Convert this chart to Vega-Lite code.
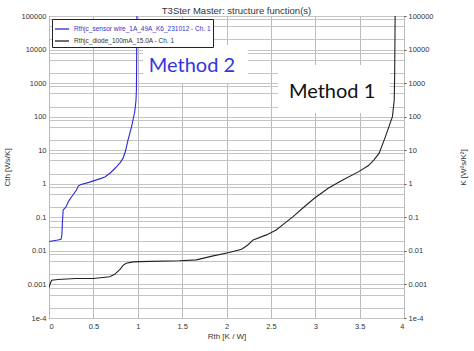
{
  "$schema": "https://vega.github.io/schema/vega-lite/v6.json",
  "width": 355,
  "height": 302,
  "autosize": {"type": "none"},
  "padding": {"left": 49, "top": 16, "right": 70, "bottom": 33},
  "background": "white",
  "title": {"text": "T3Ster Master: structure function(s)", "fontSize": 9.5, "fontWeight": "normal", "color": "#333", "font": "Liberation Sans", "frame": "group", "anchor": "middle", "dx": 10, "offset": -3},
  "config": {
    "view": {"stroke": "#222", "strokeWidth": 1},
    "axis": {"labelFont": "Liberation Sans", "titleFont": "Liberation Sans", "labelFontSize": 7.5, "titleFontSize": 8, "titleFontWeight": "normal", "labelColor": "#333", "titleColor": "#333", "gridColor": "#c4c4c4", "gridWidth": 1, "domain": false, "tickColor": "#555"}
  },
  "datasets": {
    "curves": [
      {"x": 0, "y": 0.019, "s": "Rthjc_sensor wire_1A_49A_K6_231012 - Ch. 1"},
      {"x": 0.05, "y": 0.02, "s": "Rthjc_sensor wire_1A_49A_K6_231012 - Ch. 1"},
      {"x": 0.1, "y": 0.021, "s": "Rthjc_sensor wire_1A_49A_K6_231012 - Ch. 1"},
      {"x": 0.135, "y": 0.022, "s": "Rthjc_sensor wire_1A_49A_K6_231012 - Ch. 1"},
      {"x": 0.145, "y": 0.03, "s": "Rthjc_sensor wire_1A_49A_K6_231012 - Ch. 1"},
      {"x": 0.152, "y": 0.08, "s": "Rthjc_sensor wire_1A_49A_K6_231012 - Ch. 1"},
      {"x": 0.16, "y": 0.166, "s": "Rthjc_sensor wire_1A_49A_K6_231012 - Ch. 1"},
      {"x": 0.19, "y": 0.2, "s": "Rthjc_sensor wire_1A_49A_K6_231012 - Ch. 1"},
      {"x": 0.22, "y": 0.3, "s": "Rthjc_sensor wire_1A_49A_K6_231012 - Ch. 1"},
      {"x": 0.255, "y": 0.41, "s": "Rthjc_sensor wire_1A_49A_K6_231012 - Ch. 1"},
      {"x": 0.29, "y": 0.55, "s": "Rthjc_sensor wire_1A_49A_K6_231012 - Ch. 1"},
      {"x": 0.31, "y": 0.65, "s": "Rthjc_sensor wire_1A_49A_K6_231012 - Ch. 1"},
      {"x": 0.33, "y": 0.85, "s": "Rthjc_sensor wire_1A_49A_K6_231012 - Ch. 1"},
      {"x": 0.36, "y": 0.95, "s": "Rthjc_sensor wire_1A_49A_K6_231012 - Ch. 1"},
      {"x": 0.45, "y": 1.1, "s": "Rthjc_sensor wire_1A_49A_K6_231012 - Ch. 1"},
      {"x": 0.57, "y": 1.4, "s": "Rthjc_sensor wire_1A_49A_K6_231012 - Ch. 1"},
      {"x": 0.63, "y": 1.6, "s": "Rthjc_sensor wire_1A_49A_K6_231012 - Ch. 1"},
      {"x": 0.69, "y": 2.1, "s": "Rthjc_sensor wire_1A_49A_K6_231012 - Ch. 1"},
      {"x": 0.75, "y": 3.0, "s": "Rthjc_sensor wire_1A_49A_K6_231012 - Ch. 1"},
      {"x": 0.8, "y": 4.2, "s": "Rthjc_sensor wire_1A_49A_K6_231012 - Ch. 1"},
      {"x": 0.835, "y": 5.8, "s": "Rthjc_sensor wire_1A_49A_K6_231012 - Ch. 1"},
      {"x": 0.86, "y": 9, "s": "Rthjc_sensor wire_1A_49A_K6_231012 - Ch. 1"},
      {"x": 0.89, "y": 20, "s": "Rthjc_sensor wire_1A_49A_K6_231012 - Ch. 1"},
      {"x": 0.93, "y": 50, "s": "Rthjc_sensor wire_1A_49A_K6_231012 - Ch. 1"},
      {"x": 0.966, "y": 140, "s": "Rthjc_sensor wire_1A_49A_K6_231012 - Ch. 1"},
      {"x": 0.98, "y": 300, "s": "Rthjc_sensor wire_1A_49A_K6_231012 - Ch. 1"},
      {"x": 0.985, "y": 630, "s": "Rthjc_sensor wire_1A_49A_K6_231012 - Ch. 1"},
      {"x": 0.987, "y": 3000, "s": "Rthjc_sensor wire_1A_49A_K6_231012 - Ch. 1"},
      {"x": 0.99, "y": 100000, "s": "Rthjc_sensor wire_1A_49A_K6_231012 - Ch. 1"},
      {"x": 0, "y": 0.0008, "s": "Rthjc_diode_100mA_15.0A - Ch. 1"},
      {"x": 0.01, "y": 0.001, "s": "Rthjc_diode_100mA_15.0A - Ch. 1"},
      {"x": 0.03, "y": 0.00134, "s": "Rthjc_diode_100mA_15.0A - Ch. 1"},
      {"x": 0.1, "y": 0.0014, "s": "Rthjc_diode_100mA_15.0A - Ch. 1"},
      {"x": 0.3, "y": 0.0015, "s": "Rthjc_diode_100mA_15.0A - Ch. 1"},
      {"x": 0.5, "y": 0.0015, "s": "Rthjc_diode_100mA_15.0A - Ch. 1"},
      {"x": 0.685, "y": 0.0017, "s": "Rthjc_diode_100mA_15.0A - Ch. 1"},
      {"x": 0.74, "y": 0.002, "s": "Rthjc_diode_100mA_15.0A - Ch. 1"},
      {"x": 0.8, "y": 0.0028, "s": "Rthjc_diode_100mA_15.0A - Ch. 1"},
      {"x": 0.835, "y": 0.0037, "s": "Rthjc_diode_100mA_15.0A - Ch. 1"},
      {"x": 0.87, "y": 0.0043, "s": "Rthjc_diode_100mA_15.0A - Ch. 1"},
      {"x": 0.95, "y": 0.0047, "s": "Rthjc_diode_100mA_15.0A - Ch. 1"},
      {"x": 1.02, "y": 0.0048, "s": "Rthjc_diode_100mA_15.0A - Ch. 1"},
      {"x": 1.47, "y": 0.0051, "s": "Rthjc_diode_100mA_15.0A - Ch. 1"},
      {"x": 1.66, "y": 0.0054, "s": "Rthjc_diode_100mA_15.0A - Ch. 1"},
      {"x": 1.85, "y": 0.0071, "s": "Rthjc_diode_100mA_15.0A - Ch. 1"},
      {"x": 2.03, "y": 0.0089, "s": "Rthjc_diode_100mA_15.0A - Ch. 1"},
      {"x": 2.17, "y": 0.0112, "s": "Rthjc_diode_100mA_15.0A - Ch. 1"},
      {"x": 2.24, "y": 0.015, "s": "Rthjc_diode_100mA_15.0A - Ch. 1"},
      {"x": 2.3, "y": 0.0213, "s": "Rthjc_diode_100mA_15.0A - Ch. 1"},
      {"x": 2.45, "y": 0.03, "s": "Rthjc_diode_100mA_15.0A - Ch. 1"},
      {"x": 2.56, "y": 0.042, "s": "Rthjc_diode_100mA_15.0A - Ch. 1"},
      {"x": 2.65, "y": 0.065, "s": "Rthjc_diode_100mA_15.0A - Ch. 1"},
      {"x": 2.75, "y": 0.105, "s": "Rthjc_diode_100mA_15.0A - Ch. 1"},
      {"x": 2.87, "y": 0.2, "s": "Rthjc_diode_100mA_15.0A - Ch. 1"},
      {"x": 2.99, "y": 0.37, "s": "Rthjc_diode_100mA_15.0A - Ch. 1"},
      {"x": 3.15, "y": 0.75, "s": "Rthjc_diode_100mA_15.0A - Ch. 1"},
      {"x": 3.31, "y": 1.3, "s": "Rthjc_diode_100mA_15.0A - Ch. 1"},
      {"x": 3.49, "y": 2.3, "s": "Rthjc_diode_100mA_15.0A - Ch. 1"},
      {"x": 3.6, "y": 3.5, "s": "Rthjc_diode_100mA_15.0A - Ch. 1"},
      {"x": 3.66, "y": 5.1, "s": "Rthjc_diode_100mA_15.0A - Ch. 1"},
      {"x": 3.72, "y": 8.2, "s": "Rthjc_diode_100mA_15.0A - Ch. 1"},
      {"x": 3.79, "y": 25, "s": "Rthjc_diode_100mA_15.0A - Ch. 1"},
      {"x": 3.84, "y": 60, "s": "Rthjc_diode_100mA_15.0A - Ch. 1"},
      {"x": 3.87, "y": 100, "s": "Rthjc_diode_100mA_15.0A - Ch. 1"},
      {"x": 3.89, "y": 315, "s": "Rthjc_diode_100mA_15.0A - Ch. 1"},
      {"x": 3.895, "y": 2000, "s": "Rthjc_diode_100mA_15.0A - Ch. 1"},
      {"x": 3.9, "y": 100000, "s": "Rthjc_diode_100mA_15.0A - Ch. 1"}
    ],
    "boxes": [
      {"x": 1.06, "x2": 2.24, "y": 13700, "y2": 1000},
      {"x": 2.58, "x2": 3.84, "y": 3470, "y2": 129}
    ],
    "labels": [
      {"x": 1.61, "y": 2200, "t": "Method 2", "c": "m2"},
      {"x": 3.19, "y": 355, "t": "Method 1", "c": "m1"}
    ]
  },
  "encoding": {
    "x": {"field": "x", "type": "quantitative", "scale": {"domain": [0, 4], "nice": false},
      "axis": {"title": "Rth [K / W]", "values": [0, 0.5, 1, 1.5, 2, 2.5, 3, 3.5, 4], "labelExpr": "format(datum.value, '~g')", "grid": true, "ticks": false, "labelPadding": 4, "titlePadding": 3, "gridColor": "#bbbbbb"}}
  },
  "resolve": {"axis": {"y": "independent"}, "scale": {"color": "independent"}},
  "layer": [
    {
      "data": {"name": "boxes"},
      "mark": {"type": "rect", "fill": "white", "stroke": null},
      "encoding": {
        "x2": {"field": "x2"},
        "y": {"field": "y", "type": "quantitative", "scale": {"type": "log", "domain": [0.0001, 100000], "nice": false}, "axis": null},
        "y2": {"field": "y2"}
      }
    },
    {
      "data": {"name": "curves"},
      "mark": {"type": "line", "strokeWidth": 1.1, "clip": true},
      "encoding": {
        "y": {"field": "y", "type": "quantitative", "scale": {"type": "log", "domain": [0.0001, 100000], "nice": false},
          "axis": {"orient": "left", "title": "Cth [Ws/K]", "titlePadding": 9, "grid": true,
            "values": [0.0001, 0.0002, 0.0005, 0.0008, 0.001, 0.002, 0.005, 0.008, 0.01, 0.02, 0.05, 0.08, 0.1, 0.2, 0.5, 0.8, 1, 2, 5, 8, 10, 20, 50, 80, 100, 200, 500, 800, 1000, 2000, 5000, 8000, 10000, 20000, 50000, 80000, 100000],
            "ticks": false, "labelPadding": 3,
            "labelExpr": "abs(log(datum.value)/LN10 - round(log(datum.value)/LN10)) > 0.01 ? '' : (datum.value < 0.0005 ? '1e-4' : format(datum.value, '~g'))"}},
        "order": {"field": "x", "type": "quantitative"},
        "color": {"field": "s", "type": "nominal", "sort": ["Rthjc_sensor wire_1A_49A_K6_231012 - Ch. 1", "Rthjc_diode_100mA_15.0A - Ch. 1"],
          "scale": {"domain": ["Rthjc_sensor wire_1A_49A_K6_231012 - Ch. 1", "Rthjc_diode_100mA_15.0A - Ch. 1"], "range": ["#2a2ad6", "#222222"]},
          "legend": {"title": null, "orient": "top-left", "offset": 3, "fillColor": "white", "strokeColor": "#222", "padding": 2, "labelFontSize": 6.5, "labelFont": "Liberation Sans", "symbolType": "stroke", "symbolSize": 200, "symbolStrokeWidth": 1.3, "rowPadding": 0, "labelLimit": 300, "labelOffset": 4,
            "encode": {"labels": {"update": {"fill": {"signal": "indexof(datum.label, 'sensor') >= 0 ? '#3333cc' : '#333333'"}}}}}
        }
      }
    },
    {
      "data": {"name": "labels"},
      "mark": {"type": "text", "font": "Lato", "fontSize": 20, "baseline": "alphabetic", "align": "center"},
      "encoding": {
        "y": {"field": "y", "type": "quantitative", "scale": {"type": "log", "domain": [0.0001, 100000], "nice": false},
          "axis": {"orient": "right", "title": "K [W²s/K²]", "titleAngle": 270, "titlePadding": 34, "grid": false,
            "values": [0.0001, 0.001, 0.01, 0.1, 1, 10, 100, 1000, 10000, 100000], "ticks": true, "tickSize": 2, "labelPadding": 2,
            "labelExpr": "datum.value < 0.0005 ? '1e-4' : format(datum.value, '~g')"}},
        "text": {"field": "t"},
        "color": {"field": "c", "type": "nominal", "scale": {"domain": ["m2", "m1"], "range": ["#3535e0", "#111111"]}, "legend": null}
      }
    }
  ]
}
